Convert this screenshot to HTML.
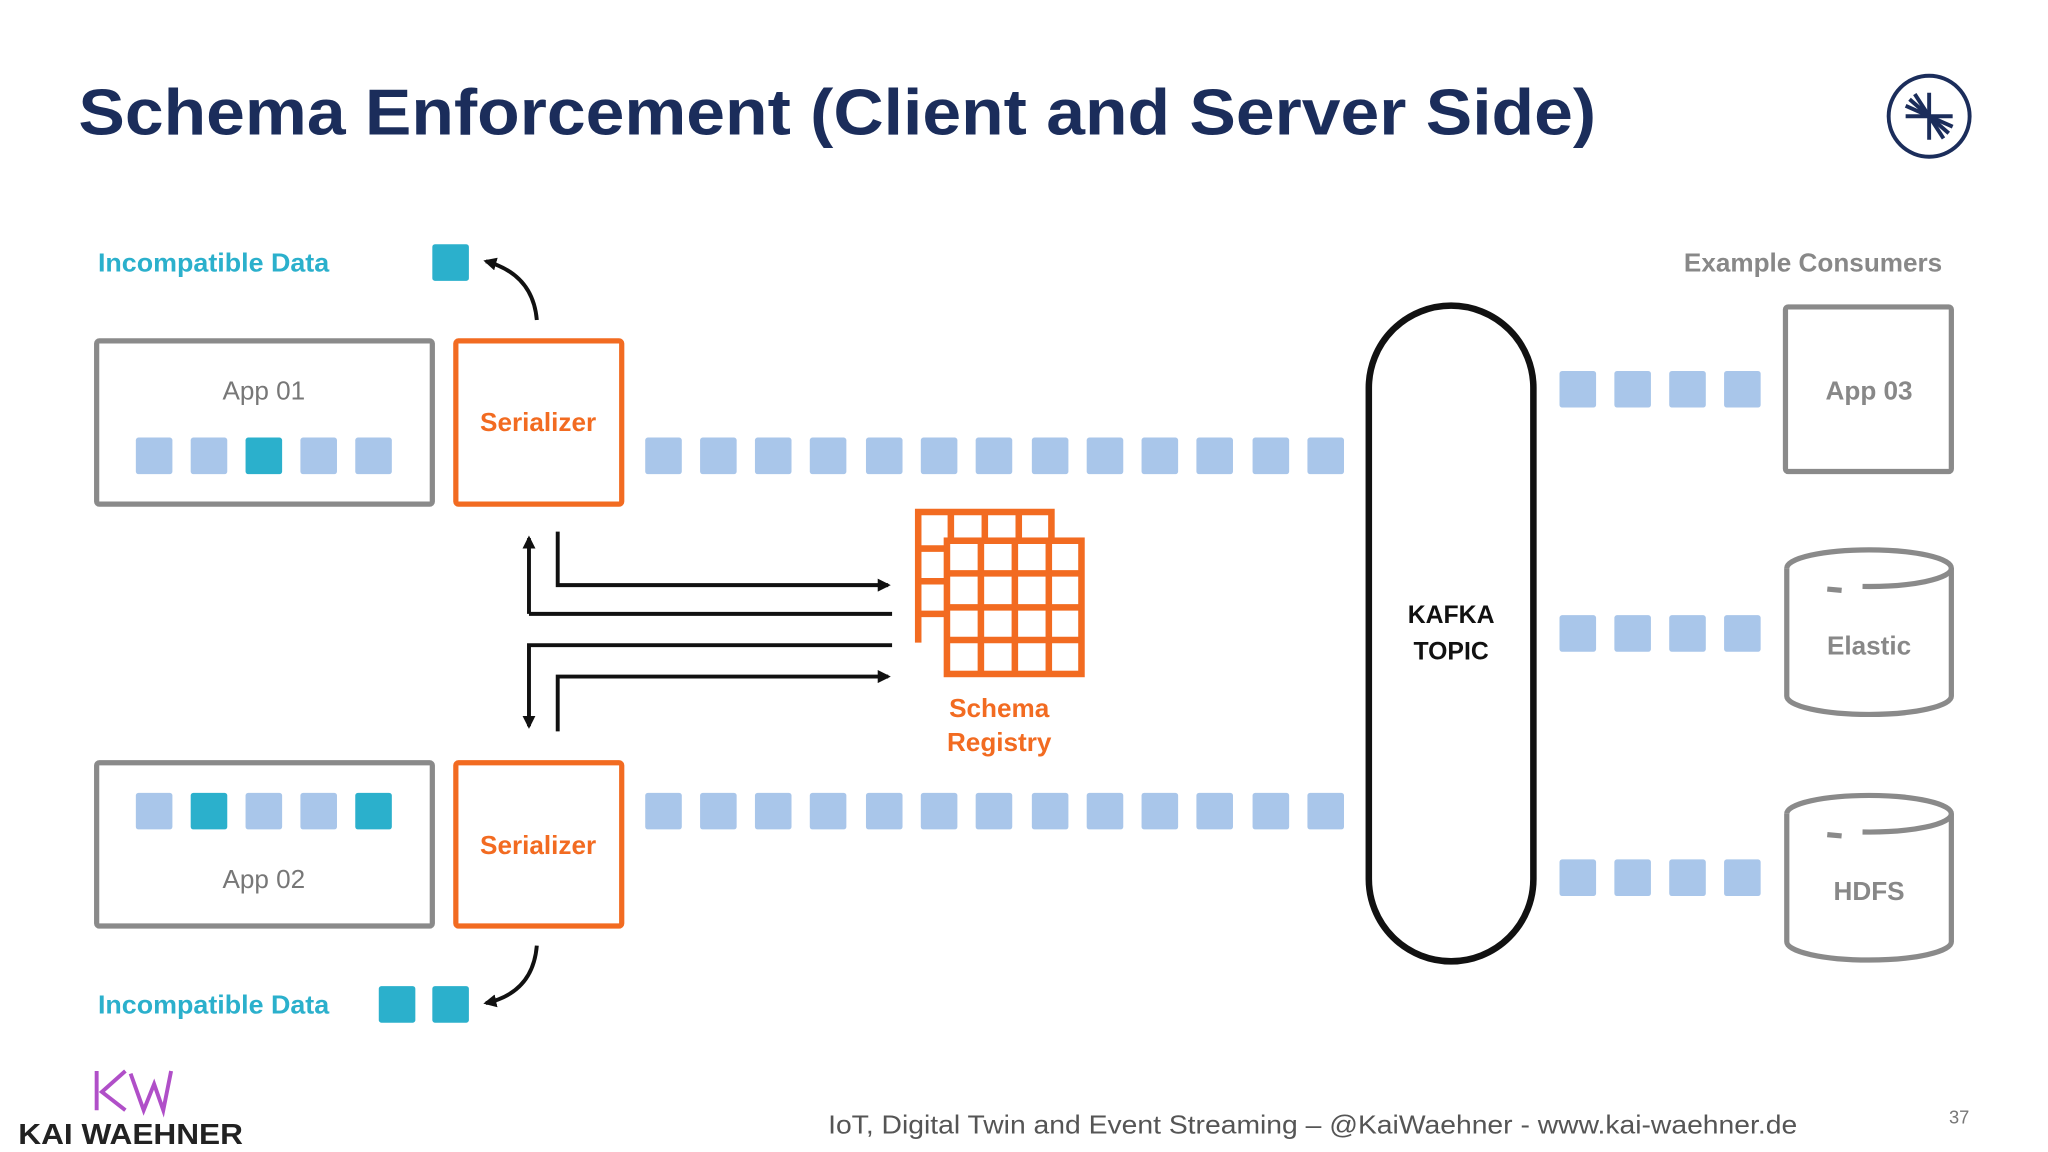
<!DOCTYPE html>
<html><head><meta charset="utf-8"><style>html,body{margin:0;padding:0;background:#fff}svg{display:block}</style></head>
<body>
<svg width="2048" height="1152" viewBox="0 0 1568 882" xmlns="http://www.w3.org/2000/svg" font-family="Liberation Sans, sans-serif">
<defs>
<marker id="ah" markerWidth="10" markerHeight="10" refX="8" refY="5" orient="auto" markerUnits="userSpaceOnUse"><path d="M0,0 L10,5 L0,10 z" fill="#111"/></marker>
</defs>
<rect width="1568" height="882" fill="#fff"/>
<text x="60" y="103" font-size="50" font-weight="bold" fill="#1b2d5b" textLength="1162" lengthAdjust="spacingAndGlyphs">Schema Enforcement (Client and Server Side)</text>
<g stroke="#1b2d5b" stroke-width="3" fill="none">
<circle cx="1477" cy="89" r="31"/>
<line x1="1477" y1="71" x2="1477" y2="107"/><line x1="1459" y1="89" x2="1495" y2="89"/>
<line x1="1477" y1="89" x2="1462" y2="76"/><line x1="1477" y1="89" x2="1466" y2="72"/><line x1="1477" y1="89" x2="1459" y2="81"/>
<line x1="1477" y1="89" x2="1492" y2="102"/><line x1="1477" y1="89" x2="1488" y2="106"/><line x1="1477" y1="89" x2="1495" y2="97"/>
</g>
<g font-size="20" font-weight="bold" fill="#2bb0cc">
<text x="75" y="208" textLength="177" lengthAdjust="spacingAndGlyphs">Incompatible Data</text>
<text x="75" y="776" textLength="177" lengthAdjust="spacingAndGlyphs">Incompatible Data</text>
</g>
<rect x="331" y="187" width="28" height="28" rx="2" fill="#2bb0cc"/>
<rect x="290" y="755" width="28" height="28" rx="2" fill="#2bb0cc"/>
<rect x="331" y="755" width="28" height="28" rx="2" fill="#2bb0cc"/>
<g stroke="#111" stroke-width="3" fill="none">
<path d="M411,245 Q408,210 372,200" marker-end="url(#ah)"/>
<path d="M411,724 Q408,760 372,768" marker-end="url(#ah)"/>
<path d="M405,470 L405,412" marker-end="url(#ah)"/>
<path d="M405,470 L683,470"/>
<path d="M427,407 L427,448 L680,448" marker-end="url(#ah)"/>
<path d="M683,494 L405,494 L405,556" marker-end="url(#ah)"/>
<path d="M427,560 L427,518 L680,518" marker-end="url(#ah)"/>
</g>
<g fill="none" stroke="#8a8a8a" stroke-width="4">
<rect x="74" y="261" width="257" height="125" rx="2"/>
<rect x="74" y="584" width="257" height="125" rx="2"/>
<rect x="1367" y="235" width="127" height="126" rx="2"/>
</g>
<g fill="none" stroke="#f26b21" stroke-width="4">
<rect x="349" y="261" width="127" height="125" rx="2"/>
<rect x="349" y="584" width="127" height="125" rx="2"/>
</g>
<g font-size="20" fill="#777" text-anchor="middle">
<text x="202" y="306">App 01</text>
<text x="202" y="680">App 02</text>
<text x="1431" y="306" font-weight="bold" fill="#888">App 03</text>
<text x="1431" y="501" font-weight="bold" fill="#888">Elastic</text>
<text x="1431" y="689" font-weight="bold" fill="#888">HDFS</text>
</g>
<g font-size="20" font-weight="bold" fill="#f26b21" text-anchor="middle">
<text x="412" y="330">Serializer</text>
<text x="412" y="654">Serializer</text>
<text x="765" y="549">Schema</text>
<text x="765" y="575">Registry</text>
</g>
<g fill="#a9c6ea">
<rect x="104" y="335" width="28" height="28" rx="2"/><rect x="146" y="335" width="28" height="28" rx="2"/><rect x="188" y="335" width="28" height="28" rx="2" fill="#2bb0cc"/><rect x="230" y="335" width="28" height="28" rx="2"/><rect x="272" y="335" width="28" height="28" rx="2"/>
<rect x="104" y="607" width="28" height="28" rx="2"/><rect x="146" y="607" width="28" height="28" rx="2" fill="#2bb0cc"/><rect x="188" y="607" width="28" height="28" rx="2"/><rect x="230" y="607" width="28" height="28" rx="2"/><rect x="272" y="607" width="28" height="28" rx="2" fill="#2bb0cc"/>
</g>
<g fill="#a9c6ea" id="r1">
<rect x="494" y="335" width="28" height="28" rx="2"/><rect x="536" y="335" width="28" height="28" rx="2"/><rect x="578" y="335" width="28" height="28" rx="2"/><rect x="620" y="335" width="28" height="28" rx="2"/><rect x="663" y="335" width="28" height="28" rx="2"/><rect x="705" y="335" width="28" height="28" rx="2"/><rect x="747" y="335" width="28" height="28" rx="2"/><rect x="790" y="335" width="28" height="28" rx="2"/><rect x="832" y="335" width="28" height="28" rx="2"/><rect x="874" y="335" width="28" height="28" rx="2"/><rect x="916" y="335" width="28" height="28" rx="2"/><rect x="959" y="335" width="28" height="28" rx="2"/><rect x="1001" y="335" width="28" height="28" rx="2"/>
</g>
<use href="#r1" y="272"/>
<g fill="#a9c6ea" id="r2">
<rect x="1194" y="284" width="28" height="28" rx="2"/><rect x="1236" y="284" width="28" height="28" rx="2"/><rect x="1278" y="284" width="28" height="28" rx="2"/><rect x="1320" y="284" width="28" height="28" rx="2"/>
</g>
<use href="#r2" y="187"/>
<use href="#r2" y="374"/>
<rect x="1048" y="234" width="126" height="502" rx="63" fill="none" stroke="#111" stroke-width="5"/>
<g font-size="19" font-weight="bold" fill="#111" text-anchor="middle">
<text x="1111" y="477">KAFKA</text><text x="1111" y="505">TOPIC</text>
</g>
<g fill="none" stroke="#8a8a8a" stroke-width="4">
<path d="M1368,435 L1368,533 A63,14 0 0 0 1494,533 L1494,435"/>
<path d="M1368,435 A63,14 0 0 1 1494,435 A63,14 0 0 1 1426,449"/>
<line x1="1399" y1="451" x2="1410" y2="452"/>
<path d="M1368,623 L1368,721 A63,14 0 0 0 1494,721 L1494,623"/>
<path d="M1368,623 A63,14 0 0 1 1494,623 A63,14 0 0 1 1426,637"/>
<line x1="1399" y1="639" x2="1410" y2="640"/>
</g>
<text x="1487" y="208" font-size="20" font-weight="bold" fill="#888" text-anchor="end">Example Consumers</text>
<g fill="none" stroke="#f26b21" stroke-width="5">
<path d="M703,492 L703,392 L805,392 L805,412"/>
<line x1="703" y1="420" x2="723" y2="420"/><line x1="703" y1="445" x2="723" y2="445"/><line x1="703" y1="470" x2="723" y2="470"/>
<line x1="728" y1="392" x2="728" y2="412"/><line x1="754" y1="392" x2="754" y2="412"/><line x1="780" y1="392" x2="780" y2="412"/>
<rect x="725" y="414" width="103" height="102"/>
<line x1="751" y1="414" x2="751" y2="516"/><line x1="777" y1="414" x2="777" y2="516"/><line x1="803" y1="414" x2="803" y2="516"/>
<line x1="725" y1="439" x2="828" y2="439"/><line x1="725" y1="465" x2="828" y2="465"/><line x1="725" y1="490" x2="828" y2="490"/>
</g>
<text x="634" y="868" font-size="20" fill="#555" textLength="742" lengthAdjust="spacingAndGlyphs">IoT, Digital Twin and Event Streaming – @KaiWaehner - www.kai-waehner.de</text>
<text x="1500" y="860" font-size="14" fill="#777" text-anchor="middle">37</text>
<g stroke="#b04fc8" stroke-width="3" fill="none">
<path d="M74,820 L74,850 M96,820 L78,836 L96,850 M100,822 L110,850 L118,830 L125,850 L131,820"/>
</g>
<text x="14" y="876" font-size="22" font-weight="bold" fill="#222" textLength="172" lengthAdjust="spacingAndGlyphs">KAI WAEHNER</text>
</svg>
</body></html>
